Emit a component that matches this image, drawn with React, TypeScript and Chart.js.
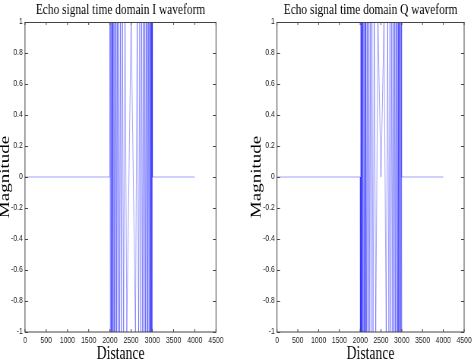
import React, { useEffect, useRef } from 'react';
import { Chart, registerables } from 'chart.js';

Chart.register(...registerables);

// ---------- data ----------
const panelTitles = ['Echo signal time domain I waveform', 'Echo signal time domain Q waveform'];
const xAxisTitle = 'Distance';
const yAxisTitle = 'Magnitude';

const xTicks = [0, 500, 1000, 1500, 2000, 2500, 3000, 3500, 4000, 4500];
const xTickLabels = ['0', '500', '1000', '1500', '2000', '2500', '3000', '3500', '4000', '4500'];
const yTicks = [-1, -0.8, -0.6, -0.4, -0.2, 0, 0.2, 0.4, 0.6, 0.8, 1];
const yTickLabels = ['-1', '-0.8', '-0.6', '-0.4', '-0.2', '0', '0.2', '0.4', '0.6', '0.8', '1'];

// I channel: flat, chirp extrema between 2000 and 3000, flat
const iDistance = [
  0, 1999,
  2000, 2010, 2021, 2032, 2044, 2055, 2067, 2079, 2092, 2105, 2118, 2132,
  2146, 2161, 2177, 2194, 2211, 2230, 2250, 2272, 2296, 2323, 2356, 2398,
  2500,
  2602, 2644, 2677, 2704, 2728, 2750, 2770, 2789, 2806, 2823, 2839, 2854,
  2868, 2882, 2895, 2908, 2921, 2933, 2945, 2956, 2968, 2979, 2990, 3000,
  3001, 4000,
];
const iMagnitude = [
  0, 0,
  1, -1, 1, -1, 1, -1, 1, -1, 1, -1, 1, -1,
  1, -1, 1, -1, 1, -1, 1, -1, 1, -1, 1, -1,
  1,
  -1, 1, -1, 1, -1, 1, -1, 1, -1, 1, -1, 1,
  -1, 1, -1, 1, -1, 1, -1, 1, -1, 1, -1, 1,
  0, 0,
];

// Q channel
const qDistance = [
  0, 2000,
  2005, 2016, 2027, 2038, 2050, 2061, 2073, 2085, 2098, 2112, 2125, 2139,
  2154, 2169, 2185, 2202, 2220, 2240, 2261, 2283, 2309, 2339, 2375, 2428,
  2500,
  2572, 2625, 2661, 2691, 2717, 2739, 2760, 2780, 2798, 2815, 2831, 2846,
  2861, 2875, 2888, 2902, 2915, 2927, 2939, 2950, 2962, 2973, 2984, 2995,
  3000, 4000,
];
const qMagnitude = [
  0, 0,
  -1, 1, -1, 1, -1, 1, -1, 1, -1, 1, -1, 1,
  -1, 1, -1, 1, -1, 1, -1, 1, -1, 1, -1, 1,
  0,
  1, -1, 1, -1, 1, -1, 1, -1, 1, -1, 1, -1,
  1, -1, 1, -1, 1, -1, 1, -1, 1, -1, 1, -1,
  0, 0,
];

// ---------- layout ----------
const CSS_W = 237;
const CANVAS_W = 312;
const H = 360;
const K = CANVAS_W / CSS_W;
const PLOT_BOTTOM = 332;
const AXIS_COLOR = '#444';
const TICK_COLOR = '#222';
const SERIF = '"Liberation Serif", "Times New Roman", serif';
const SANS = '"Liberation Sans", Arial, sans-serif';

const boxPlugin = {
  id: 'matlabBox',
  afterDraw(chart: any) {
    const { ctx, chartArea } = chart;
    const { left, right, top, bottom } = chartArea;
    const xs = chart.scales.x;
    const ys = chart.scales.y;
    ctx.save();
    ctx.strokeStyle = AXIS_COLOR;
    ctx.lineWidth = 1;
    ctx.strokeRect(left, top + 0.5, right - left, bottom - top - 0.5);
    ctx.beginPath();
    xTicks.forEach((v) => {
      const px = xs.getPixelForValue(v);
      ctx.moveTo(px, bottom);
      ctx.lineTo(px, bottom - 3);
      ctx.moveTo(px, top);
      ctx.lineTo(px, top + 3);
    });
    yTicks.forEach((v) => {
      const py = Math.round(ys.getPixelForValue(v)) + 0.5;
      ctx.moveTo(left, py);
      ctx.lineTo(left + 4, py);
      ctx.moveTo(right, py);
      ctx.lineTo(right - 4, py);
    });
    ctx.stroke();
    ctx.restore();
  },
};

type PanelProps = {
  title: string;
  xs: number[];
  ys: number[];
  plotLeft: number;
  plotRight: number;
};

function Panel({ title, xs, ys, plotLeft, plotRight }: PanelProps) {
  const ref = useRef<HTMLCanvasElement>(null);
  useEffect(() => {
    const canvas = ref.current as HTMLCanvasElement;
    const leftW = plotLeft * K;
    const rightPad = (CSS_W - plotRight) * K;
    const yTitleCenter = (plotLeft - 20) * K;
    const chart = new Chart(canvas, {
      type: 'line',
      data: {
        datasets: [
          {
            data: xs.map((x, i) => ({ x, y: ys[i] })),
            borderColor: 'rgba(0, 0, 255, 0.62)',
            borderWidth: 0.6,
            pointRadius: 0,
            tension: 0,
            fill: false,
          },
        ],
      },
      options: {
        animation: false,
        responsive: false,
        devicePixelRatio: 1,
        layout: { padding: { left: 0, right: rightPad, top: 0, bottom: 0 } },
        plugins: {
          legend: { display: false },
          tooltip: { enabled: false },
          title: {
            display: true,
            text: title,
            fullSize: false,
            color: '#000',
            font: { family: SERIF, size: 15, weight: 'normal', lineHeight: 1.2 },
            padding: { top: 1, bottom: 3 },
          },
        },
        scales: {
          x: {
            type: 'linear',
            min: 0,
            max: 4500,
            grid: { display: false, drawTicks: false },
            border: { display: false },
            afterBuildTicks: (s: any) => {
              s.ticks = xTicks.map((v) => ({ value: v }));
            },
            afterFit: (s: any) => {
              s.height = H - PLOT_BOTTOM;
            },
            ticks: {
              autoSkip: false,
              maxRotation: 0,
              padding: 3,
              color: TICK_COLOR,
              font: { family: SANS, size: 9 },
              callback: (_v: any, i: number) => xTickLabels[i],
            },
            title: {
              display: true,
              text: xAxisTitle,
              color: '#000',
              font: { family: SERIF, size: 18, weight: 'normal', lineHeight: 1 },
              padding: { top: 0, bottom: -3 },
            },
          },
          y: {
            type: 'linear',
            min: -1,
            max: 1,
            grid: { display: false, drawTicks: false },
            border: { display: false },
            afterBuildTicks: (s: any) => {
              s.ticks = yTicks.map((v) => ({ value: v }));
            },
            afterFit: (s: any) => {
              s.width = leftW;
            },
            ticks: {
              autoSkip: false,
              padding: 3,
              color: TICK_COLOR,
              font: { family: SANS, size: 9 },
              callback: (_v: any, i: number) => yTickLabels[i],
            },
            title: {
              display: true,
              text: yAxisTitle,
              color: '#000',
              font: { family: SERIF, size: 19, weight: 'normal', lineHeight: 1 },
              padding: { top: yTitleCenter - 9.5, bottom: 0 },
            },
          },
        },
      } as any,
      plugins: [boxPlugin],
    });
    return () => chart.destroy();
  }, [title, xs, ys, plotLeft, plotRight]);
  return (
    <canvas
      ref={ref}
      width={CANVAS_W}
      height={H}
      style={{ width: CSS_W + 'px', height: H + 'px', display: 'block' }}
    />
  );
}

export default function App() {
  return (
    <div
      style={{
        position: 'absolute',
        left: 0,
        top: 0,
        width: 474,
        height: H,
        display: 'flex',
        background: '#fff',
        overflow: 'hidden',
      }}
    >
      <Panel title={panelTitles[0]} xs={iDistance} ys={iMagnitude} plotLeft={25} plotRight={216} />
      <Panel title={panelTitles[1]} xs={qDistance} ys={qMagnitude} plotLeft={40} plotRight={229} />
    </div>
  );
}
